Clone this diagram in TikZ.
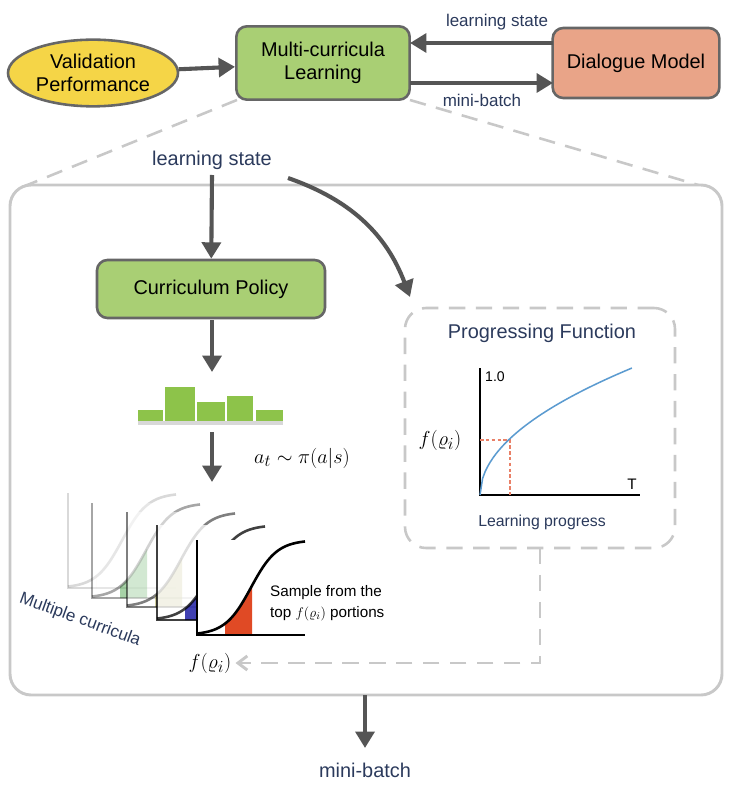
\documentclass[tikz,border=0pt]{standalone}
\usepackage{fontspec}
\setmainfont{Liberation Sans}
\usetikzlibrary{arrows.meta,shapes.geometric}
\definecolor{navy}{HTML}{2B3A5C}
\definecolor{grn}{HTML}{A9CF74}
\definecolor{hgrn}{HTML}{8DC34A}
\definecolor{yel}{HTML}{F5D547}
\definecolor{sal}{HTML}{E9A488}
\definecolor{bord}{HTML}{666666}
\definecolor{lg}{HTML}{C8C8C8}
\definecolor{arr}{HTML}{555555}
\definecolor{blu}{HTML}{5B9BD0}
\definecolor{rd}{HTML}{E04A25}
\newcommand\mycurve[6]{%
\begin{scope}[shift={(#1,#2)},opacity=#3]
\fill[white] (0,0) rectangle (108,95);
\fill[#4] (#5,95) -- plot[domain=#5:#6,samples=20] (\x,{95-95/(1+exp(-(\x-54)/13))}) -- (#6,95) -- cycle;
\draw[line width=2.2pt,black] (0,0) -- (0,95) -- (108,95);
\draw[line width=2.2pt,black] plot[domain=0:108,samples=50,smooth] (\x,{95-95/(1+exp(-(\x-54)/13))});
\end{scope}}
\begin{document}
\begin{tikzpicture}[x=0.03cm,y=-0.03cm,
  box/.style={draw=bord,line width=2.2pt,rounded corners=9pt,align=center,font=\fontsize{17}{20}\selectfont},
  ar/.style={draw=arr,line width=3.5pt,-{Triangle[length=14pt,width=16pt]}},
  lbl/.style={text=navy,font=\fontsize{14.5}{17}\selectfont}]
\useasboundingbox (0,0) rectangle (734,797);
\node[box,ellipse,fill=yel,inner sep=0] (val) at (93,73) [minimum width=5.1cm,minimum height=2cm] {Validation\\Performance};
\node[box,fill=grn,minimum width=5.2cm,minimum height=2.2cm] (mc) at (323,63) {Multi-curricula\\Learning};
\node[box,fill=sal,minimum width=5cm,minimum height=2.1cm] (dm) at (636,63) {Dialogue Model};
\draw[ar] (val) -- (mc);
\coordinate (a1) at (553,43); \coordinate (a2) at (410,43);
\coordinate (b1) at (410,83); \coordinate (b2) at (553,83);
\draw[ar] (a1) -- (a2); \draw[ar] (b1) -- (b2);
\node[lbl] (ls1) at (497,22) {learning state};
\node[lbl] (mb1) at (482,100) {mini-batch};
\draw[lg,line width=2.2pt,dash pattern=on 14pt off 9pt] (237,100) -- (15,190);
\draw[lg,line width=2.2pt,dash pattern=on 14pt off 9pt] (410,100) -- (715,190);
\draw[lg,line width=2.5pt,rounded corners=18pt,fill=white] (10,185) rectangle (722,695);
\node[lbl,font=\fontsize{17}{20}\selectfont,fill=white,inner sep=1pt] (ls) at (212,160) {learning state};
\node[box,fill=grn,minimum width=6.84cm,minimum height=1.74cm] (cp) at (211,289) {Curriculum Policy};
\draw[ar] (212,175) -- (cp);
\node[draw=lg,line width=2.2pt,dash pattern=on 14pt off 9pt,rounded corners=18pt,minimum width=8.1cm,minimum height=7.2cm] (pf) at (540,428) {};
\draw[ar] (288,178) to[bend left=25] (410,297);
\coordinate (h1) at (212,320); \coordinate (h2) at (212,372);
\draw[ar] (h1) -- (h2);
% histogram
\fill[gray!50,opacity=.6] (138,421) rectangle (283,425);
\foreach \a/\b/\t in {138/163/410,165/195/387,197/225/402,227/253/396,256/283/410}
  \fill[hgrn] (\a,\t) rectangle (\b,421);
\coordinate (h3) at (212,432); \coordinate (h4) at (212,482);
\draw[ar] (h3) -- (h4);
\node[font=\fontsize{19}{22}\selectfont] (pol) at (302,458) {$a_t\sim\pi(a|s)$};
% curricula
\mycurve{68}{493}{0.15}{rd}{28}{28}
\mycurve{92}{503}{0.35}{green!50!black}{28}{55}
\mycurve{127}{512}{0.5}{yellow!60!black}{28}{55}
\mycurve{157}{525}{0.75}{blue!60!black}{28}{55}
\mycurve{197}{540}{1}{rd}{28}{55}
\node[align=left,font=\fontsize{13}{18}\selectfont,anchor=west] (samp) at (266,603) {Sample from the\\top $f(\varrho_i)$ portions};
\node[lbl,rotate=-20] (mcur) at (80,620) {Multiple curricula};
\node[font=\fontsize{19}{22}\selectfont] (fr) at (210,663) {$f(\varrho_i)$};
\coordinate (d1) at (540,548); \coordinate (d2) at (540,663);
\draw[lg,line width=2.5pt,dash pattern=on 14pt off 9pt,-{Straight Barb[length=8pt,width=12pt]}] (d1) -- (d2) -- (fr);
% progressing function
\node[text=navy,font=\fontsize{17}{20}\selectfont] (pft) at (542,333) {Progressing Function};
\draw[line width=1.5pt] (480,368) -- (480,495) -- (640,495);
\node[font=\fontsize{12}{14}\selectfont] (one) at (495,377) {1.0};
\node[font=\fontsize{13}{15}\selectfont] (T) at (632,484) {T};
\draw[rd!70,line width=1pt,dash pattern=on 3pt off 2pt] (480,440) -- (510,440) -- (510,495);
\draw[blu,line width=1.3pt] plot[domain=0:1,samples=60] ({480+152*\x},{495-127*sqrt(\x)});
\node[font=\fontsize{19}{22}\selectfont] (fp) at (440,440) {$f(\varrho_i)$};
\node[text=navy,font=\fontsize{13.5}{16}\selectfont] (lp) at (542,522) {Learning progress};
\coordinate (m1) at (365,695); \coordinate (m2) at (365,748);
\draw[ar] (m1) -- (m2);
\node[lbl,font=\fontsize{17}{20}\selectfont] (mb) at (365,770) {mini-batch};
\end{tikzpicture}
\end{document}
